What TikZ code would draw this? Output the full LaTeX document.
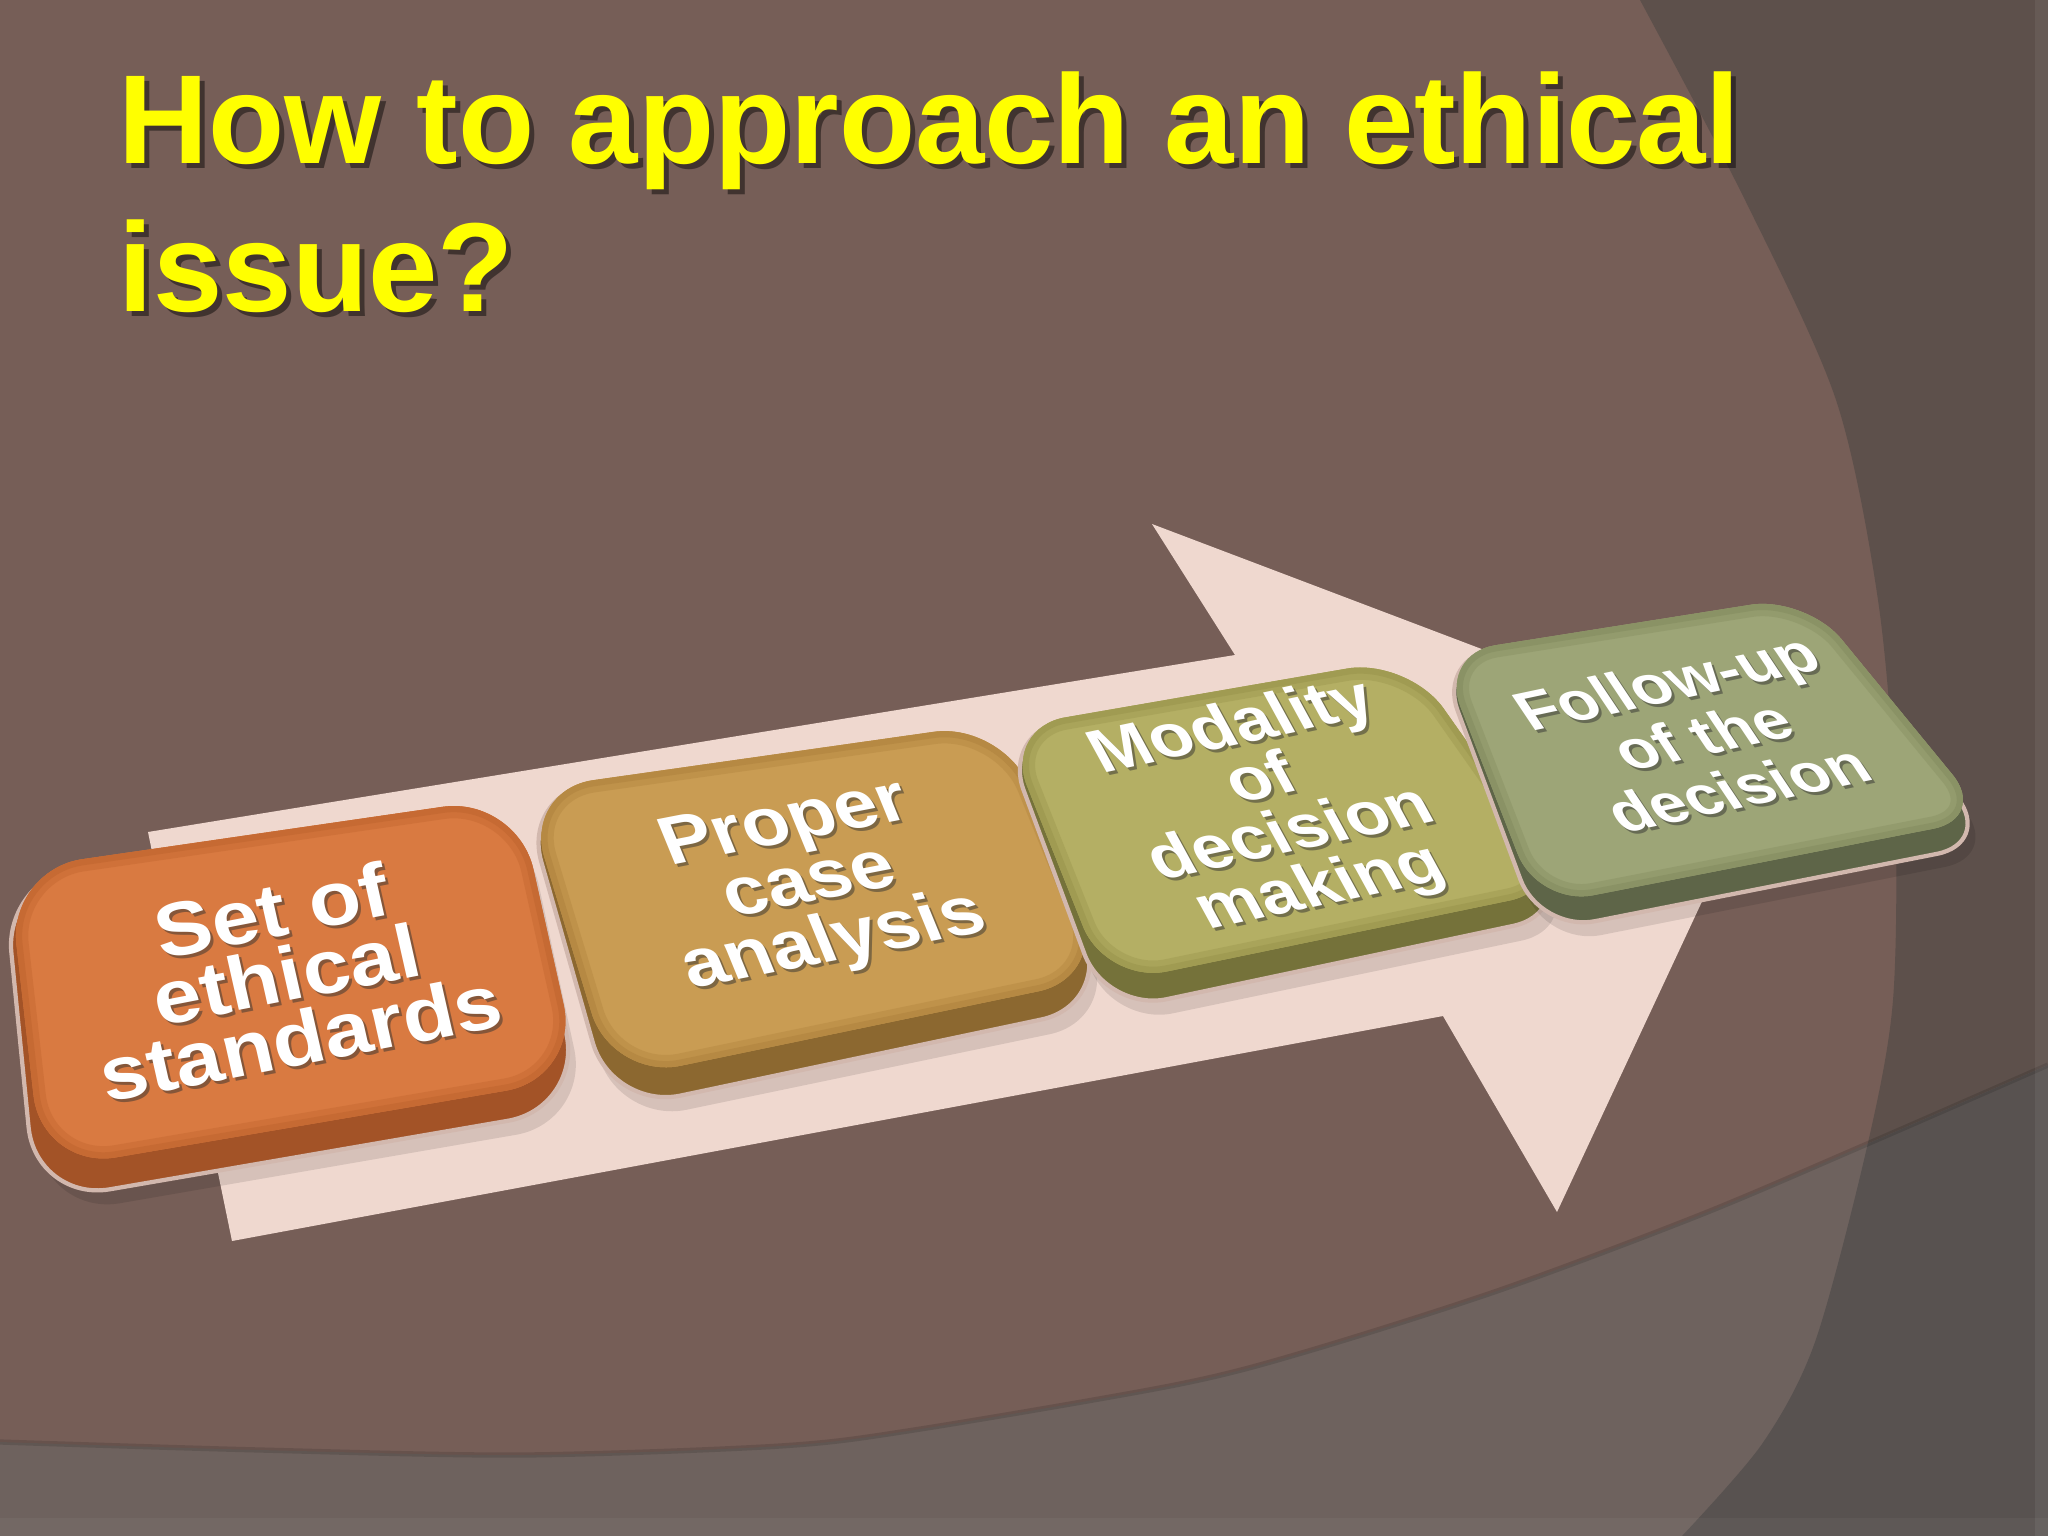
\documentclass[tikz,border=0pt]{standalone}
\usepackage{fontspec}
\setmainfont{Liberation Sans}
\definecolor{bgbrown}{HTML}{765E57}
\definecolor{bgdark}{HTML}{5D504B}
\definecolor{bggrey}{HTML}{6E625E}
\definecolor{bgdarkgrey}{HTML}{585250}
\definecolor{arrowc}{HTML}{EFD8CF}
\definecolor{haloc}{HTML}{D2B8AE}
\definecolor{bafc}{HTML}{D97A41}\definecolor{barc}{HTML}{C66A33}\definecolor{basc}{HTML}{A35327}
\definecolor{bbfc}{HTML}{C99C53}\definecolor{bbrc}{HTML}{B68943}\definecolor{bbsc}{HTML}{8C6830}
\definecolor{bcfc}{HTML}{B4AF64}\definecolor{bcrc}{HTML}{A09B52}\definecolor{bcsc}{HTML}{75723A}
\definecolor{bdfc}{HTML}{9DA577}\definecolor{bdrc}{HTML}{8A9265}\definecolor{bdsc}{HTML}{5E6548}
\definecolor{ttlyellow}{HTML}{FFFF00}
\begin{document}
\begin{tikzpicture}[x=0.01cm,y=-0.01cm,
  ttl/.style={text=ttlyellow,anchor=base west,inner sep=0pt,font=\bfseries\fontsize{36}{40}\selectfont,xscale=0.985},
  ttlshd/.style={ttl,text=black,opacity=0.45},
  boxtxt/.style={text=white,align=center,inner sep=0pt,font=\bfseries},
  boxshd/.style={boxtxt,text=black!80,opacity=0.5},
  sideshape/.style={draw=haloc,line width=1.2pt},
  boxshadow/.style={fill=black,opacity=0.1}
]
\useasboundingbox (0,0) rectangle (2048,1536);
% ---------- background ----------
\fill[bgbrown] (0,0) rectangle (2048,1536);
\fill[bgdark] plot[smooth] coordinates {(1640,0) (1745,200) (1836,400) (1878,600) (1895,800) (1893,1000) (1867,1147) (1815,1342) (1762,1444) (1682,1536)} -- (2048,1536) -- (2048,0) -- cycle;
\fill[bggrey] plot[smooth] coordinates {(0,1442) (260,1450) (522,1455) (780,1446) (914,1430) (1175,1385) (1305,1352) (1500,1290) (1700,1215) (1867,1144) (2048,1065)} -- (2048,1536) -- (0,1536) -- cycle;
\begin{scope}
  \clip plot[smooth] coordinates {(0,1442) (260,1450) (522,1455) (780,1446) (914,1430) (1175,1385) (1305,1352) (1500,1290) (1700,1215) (1867,1144) (2048,1065)} -- (2048,1536) -- (0,1536) -- cycle;
  \fill[bgdarkgrey] plot[smooth] coordinates {(1640,0) (1745,200) (1836,400) (1878,600) (1895,800) (1893,1000) (1867,1147) (1815,1342) (1762,1444) (1682,1536)} -- (2048,1536) -- (2048,0) -- cycle;
\end{scope}
\draw[black,opacity=0.12,line width=1.5pt] plot[smooth] coordinates {(0,1442) (260,1450) (522,1455) (780,1446) (914,1430) (1175,1385) (1305,1352) (1500,1290) (1700,1215) (1867,1144) (2048,1065)};
\fill[white,opacity=0.06] (2035,0) rectangle (2048,1536);
\fill[white,opacity=0.04] (0,1518) rectangle (2048,1536);
% ---------- title ----------
\node[ttlshd] (t1s) at (123,168) {How to approach an ethical};
\node[ttl] (t1) at (118,163) {How to approach an ethical};
\node[ttlshd] (t2s) at (123,316) {issue?};
\node[ttl] (t2) at (118,311) {issue?};
% ---------- arrow ----------
\fill[arrowc] (148,832) -- (1235,655) -- (1152,524) -- (1769,758) -- (1557,1212) -- (1443,1016) -- (232,1241) -- cycle;
% ---------- box 1 ----------
\fill[boxshadow,rounded corners=0.75cm] (10,890) -- (523,812) -- (590,1122) -- (46,1216) -- cycle;
\filldraw[sideshape,fill=basc,rounded corners=0.75cm] (4,878) -- (517,800) -- (582,1108) -- (36,1202) -- cycle;
\begin{scope}
  \clip[rounded corners=0.75cm] (8,870) -- (517,796) -- (580,1078) -- (42,1170) -- cycle;
  \fill[bafc] (0,780) rectangle (600,1210);
  \draw[barc,opacity=0.5,line width=7pt,rounded corners=0.75cm] (8,870) -- (517,796) -- (580,1078) -- (42,1170) -- cycle;
  \draw[barc,line width=3.5pt,rounded corners=0.75cm] (8,870) -- (517,796) -- (580,1078) -- (42,1170) -- cycle;
\end{scope}
% ---------- box 2 ----------
\fill[boxshadow,rounded corners=0.7cm] (528,808) -- (1009,740) -- (1118,1020) -- (618,1124) -- cycle;
\filldraw[sideshape,fill=bbsc,rounded corners=0.7cm] (522,794) -- (1003,726) -- (1110,1005) -- (612,1110) -- cycle;
\begin{scope}
  \clip[rounded corners=0.7cm] (524,790) -- (1003,722) -- (1107,977) -- (612,1080) -- cycle;
  \fill[bbfc] (500,700) rectangle (1120,1120);
  \draw[bbrc,opacity=0.5,line width=7pt,rounded corners=0.7cm] (524,790) -- (1003,722) -- (1107,977) -- (612,1080) -- cycle;
  \draw[bbrc,line width=3.5pt,rounded corners=0.7cm] (524,790) -- (1003,722) -- (1107,977) -- (612,1080) -- cycle;
\end{scope}
% ---------- box 3 ----------
\fill[boxshadow,rounded corners=0.62cm] (1008,746) -- (1414,676) -- (1582,928) -- (1112,1026) -- cycle;
\filldraw[sideshape,fill=bcsc,rounded corners=0.62cm] (1002,732) -- (1408,662) -- (1574,913) -- (1106,1012) -- cycle;
\begin{scope}
  \clip[rounded corners=0.62cm] (1004,728) -- (1408,658) -- (1570,888) -- (1106,984) -- cycle;
  \fill[bcfc] (990,640) rectangle (1590,1020);
  \draw[bcrc,opacity=0.5,line width=7pt,rounded corners=0.62cm] (1004,728) -- (1408,658) -- (1570,888) -- (1106,984) -- cycle;
  \draw[bcrc,line width=3.5pt,rounded corners=0.62cm] (1004,728) -- (1408,658) -- (1570,888) -- (1106,984) -- cycle;
\end{scope}
% ---------- box 4 ----------
\fill[boxshadow,rounded corners=0.56cm] (1444,672) -- (1812,614) -- (2000,856) -- (1546,946) -- cycle;
\filldraw[sideshape,fill=bdsc,rounded corners=0.56cm] (1438,658) -- (1806,600) -- (1992,843) -- (1540,932) -- cycle;
\begin{scope}
  \clip[rounded corners=0.56cm] (1440,654) -- (1806,596) -- (1988,818) -- (1538,906) -- cycle;
  \fill[bdfc] (1420,580) rectangle (2000,940);
  \draw[bdrc,opacity=0.5,line width=7pt,rounded corners=0.56cm] (1440,654) -- (1806,596) -- (1988,818) -- (1538,906) -- cycle;
  \draw[bdrc,line width=3.5pt,rounded corners=0.56cm] (1440,654) -- (1806,596) -- (1988,818) -- (1538,906) -- cycle;
\end{scope}
% ---------- box texts ----------
\node[boxshd,rotate=11,xslant=-0.03,xscale=1.12,font=\bfseries\fontsize{21.6}{18.5}\selectfont] (l1s) at (289,977) {Set of\\ethical\\standards};
\node[boxtxt,rotate=11,xslant=-0.03,xscale=1.12,font=\bfseries\fontsize{21.6}{18.5}\selectfont] (l1) at (286,974) {Set of\\ethical\\standards};
\node[boxshd,rotate=11,xslant=-0.2,xscale=1.12,font=\bfseries\fontsize{19.6}{17.8}\selectfont] (l2s) at (813,888) {Proper\\case\\analysis};
\node[boxtxt,rotate=11,xslant=-0.2,xscale=1.12,font=\bfseries\fontsize{19.6}{17.8}\selectfont] (l2) at (810,885) {Proper\\case\\analysis};
\node[boxshd,rotate=12,xslant=-0.3,xscale=1.12,font=\bfseries\fontsize{17.8}{16.6}\selectfont] (l3s) at (1280,812) {Modality\\of\\decision\\making};
\node[boxtxt,rotate=12,xslant=-0.3,xscale=1.12,font=\bfseries\fontsize{17.8}{16.6}\selectfont] (l3) at (1277,809) {Modality\\of\\decision\\making};
\node[boxshd,rotate=12,xslant=-0.4,xscale=1.12,font=\bfseries\fontsize{16.2}{16.9}\selectfont] (l4s) at (1705,738) {Follow-up\\of the\\decision};
\node[boxtxt,rotate=12,xslant=-0.4,xscale=1.12,font=\bfseries\fontsize{16.2}{16.9}\selectfont] (l4) at (1702,735) {Follow-up\\of the\\decision};
\end{tikzpicture}
\end{document}
